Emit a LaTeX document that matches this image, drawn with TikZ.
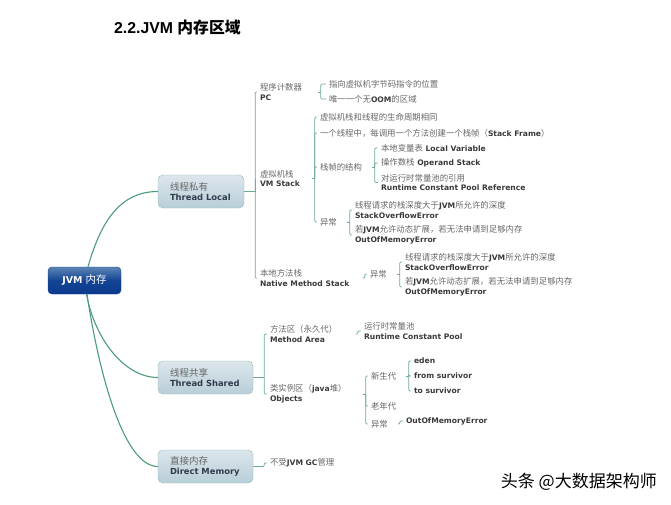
\documentclass[tikz,border=0pt]{standalone}
\usepackage{fontspec}
\setmainfont{DejaVu Sans}
\newfontfamily\cjk{Noto Sans CJK SC}
\newfontfamily\titlefont{Liberation Sans}
\usetikzlibrary{positioning}
\definecolor{zhgray}{HTML}{666666}
\definecolor{engray}{HTML}{3A3A3A}
\definecolor{branchgreen}{HTML}{6FA99A}
\definecolor{curvegreen}{HTML}{4C9C7C}
\definecolor{boxtop}{HTML}{DCE6EC}
\definecolor{boxbot}{HTML}{B9CED8}
\definecolor{boxtext}{HTML}{2E3C4C}
\definecolor{roottop}{HTML}{5C84B4}
\definecolor{rootmid}{HTML}{134492}
\definecolor{rootbot}{HTML}{0B3A90}
\newcommand{\zh}[1]{{\fontsize{8.4}{9.5}\selectfont\cjk\mdseries\color{zhgray}#1}}
\newcommand{\zb}[1]{{\fontsize{9.5}{10.5}\selectfont\cjk\mdseries\color{zhgray}#1}}
\tikzstyle{item} = [inner xsep=3pt, inner ysep=0pt, align=left, text=engray, font=\fontsize{7.6}{9.6}\selectfont\bfseries]
\tikzstyle{box} = [rectangle, draw=branchgreen!80, rounded corners=5pt, top color=boxtop, bottom color=boxbot, minimum height=33pt, inner xsep=12pt, inner ysep=0pt, align=left, text=boxtext, font=\fontsize{8.4}{10.4}\selectfont\bfseries]
\tikzstyle{branch} = [draw=branchgreen, line width=0.7pt, rounded corners=1pt]
\tikzstyle{curve} = [draw=curvegreen, line width=1.1pt]

\begin{document}
\begin{tikzpicture}[x=1pt, y=-1pt]
  \useasboundingbox (0,0) rectangle (671,505);
  \node[anchor=west, inner sep=0pt, font=\titlefont\fontsize{15.8}{16}\selectfont\bfseries] (title) at (114,28) {2.2.JVM {\cjk 内存区域}};
  \node[rectangle, draw=rootbot, rounded corners=4pt, top color=roottop, bottom color=rootbot, middle color=rootmid, minimum width=73pt, minimum height=27pt, inner sep=0pt, text=white, font=\fontsize{9.4}{10}\selectfont\bfseries] (Root) at (84.5,280.5) {JVM {\cjk\mdseries\fontsize{10.5}{10}\selectfont 内存}};

  \node[box, text width=62pt, right=110pt of Root.west, yshift=89pt] (TL) {\zb{线程私有}\\Thread Local};
  \node[box, text width=71pt, right=110pt of Root.west, yshift=-97pt] (TS) {\zb{线程共享}\\Thread Shared};
  \node[box, text width=71pt, right=110pt of Root.west, yshift=-186pt] (DM) {\zb{直接内存}\\Direct Memory};

  \node[item, right=99pt of TL.west, yshift=99.5pt] (PC) {\zh{程序计数器}\\PC};
  \node[item, right=99pt of TL.west, yshift=13pt] (VM) {\zh{虚拟机栈}\\VM Stack};
  \node[item, right=99pt of TL.west, yshift=-86.5pt] (NM) {\zh{本地方法栈}\\Native Method Stack};

  \node[item, right=69pt of PC.west, yshift=8pt] (Pa) {\zh{指向虚拟机字节码指令的位置}};
  \node[item, right=69pt of PC.west, yshift=-7pt] (Pb) {\zh{唯一一个无}OOM\zh{的区域}};

  \node[item, right=60pt of VM.west, yshift=61.5pt] (Va) {\zh{虚拟机栈和线程的生命周期相同}};
  \node[item, right=60pt of VM.west, yshift=45.5pt] (Vb) {\zh{一个线程中，每调用一个方法创建一个栈帧（}Stack Frame\zh{）}};
  \node[item, right=60pt of VM.west, yshift=11.5pt] (Vc) {\zh{栈帧的结构}};
  \node[item, right=60pt of VM.west, yshift=-43.5pt] (Vd) {\zh{异常}};

  \node[item, right=61pt of Vc.west, yshift=19pt] (Fa) {\zh{本地变量表} Local Variable};
  \node[item, right=61pt of Vc.west, yshift=4pt] (Fb) {\zh{操作数栈} Operand Stack};
  \node[item, right=61pt of Vc.west, yshift=-15.5pt] (Fc) {\zh{对运行时常量池的引用}\\Runtime Constant Pool Reference};

  \node[item, right=35pt of Vd.west, yshift=12pt] (Ea) {\zh{线程请求的栈深度大于}JVM\zh{所允许的深度}\\StackOverflowError};
  \node[item, right=35pt of Vd.west, yshift=-13pt] (Eb) {\zh{若}JVM\zh{允许动态扩展，若无法申请到足够内存}\\OutOfMemoryError};

  \node[item, right=110pt of NM.west, yshift=4pt] (Ne) {\zh{异常}};
  \node[item, right=35pt of Ne.west, yshift=12pt] (Na) {\zh{线程请求的栈深度大于}JVM\zh{所允许的深度}\\StackOverflowError};
  \node[item, right=35pt of Ne.west, yshift=-13pt] (Nb) {\zh{若}JVM\zh{允许动态扩展，若无法申请到足够内存}\\OutOfMemoryError};

  \node[item, right=109pt of TS.west, yshift=43.5pt] (MA) {\zh{方法区（永久代）}\\Method Area};
  \node[item, right=109pt of TS.west, yshift=-16.5pt] (OB) {\zh{类实例区（}java\zh{堆）}\\Objects};
  \node[item, right=94pt of MA.west, yshift=3pt] (RP) {\zh{运行时常量池}\\Runtime Constant Pool};

  \node[item, right=101pt of OB.west, yshift=18pt] (Ya) {\zh{新生代}};
  \node[item, right=101pt of OB.west, yshift=-12pt] (Yb) {\zh{老年代}};
  \node[item, right=101pt of OB.west, yshift=-30pt] (Yc) {\zh{异常}};
  \node[item, right=43pt of Ya.west, yshift=15pt] (Ed) {eden};
  \node[item, right=43pt of Ya.west] (Fs) {from survivor};
  \node[item, right=43pt of Ya.west, yshift=-15pt] (Ts) {to survivor};
  \node[item, right=35pt of Yc.west, yshift=3pt] (Oo) {OutOfMemoryError};

  \node[item, right=109pt of DM.west, yshift=3.5pt] (Dc) {\zh{不受}JVM GC\zh{管理}};

  \node[anchor=east, inner sep=0pt, font=\cjk\fontsize{17}{17}\selectfont] (mark) at (657,482) {头条 @大数据架构师};

  \coordinate[right=61pt of PC.west] (jPC);
  \coordinate[right=55pt of VM.west] (jVM);
  \coordinate[right=55pt of Vc.west] (jVc);
  \coordinate[right=30pt of Vd.west] (jVd);
  \coordinate[right=106pt of NM.west] (jNM);
  \coordinate[right=30pt of Ne.west] (jNe);
  \coordinate[right=89pt of MA.west] (jMA);
  \coordinate[right=96pt of OB.west] (jOB);
  \coordinate[right=38pt of Ya.west] (jYa);
  \coordinate[right=30pt of Yc.west] (jYc);

  \draw[curve] ([xshift=3.5pt]Root.north) .. controls (100,225) and (118,191.5) .. (TL.west);
  \draw[curve] ([xshift=2pt]Root.south) .. controls (95,340) and (125,377.5) .. (TS.west);
  \draw[curve] ([xshift=2.5pt]Root.south) .. controls (100,380) and (125,466.5) .. (DM.west);

  \draw[branch] (TL.east) -- ++(11,0) coordinate (sTL);
  \draw[branch] (sTL) |- (PC.west);
  \draw[branch] (sTL) |- (NM.west);
  \draw[branch] (sTL) -- (VM.west -| sTL);
  \draw[branch] (jPC) -- ++(3,0) coordinate (sPC);
  \draw[branch] (sPC) |- (Pa.west);
  \draw[branch] (sPC) |- (Pb.west);
  \draw[branch] (jVM) -- ++(3,0) coordinate (sVM);
  \draw[branch] (sVM) |- (Va.west);
  \draw[branch] (sVM) |- (Vb.west);
  \draw[branch] (sVM) |- (Vc.west);
  \draw[branch] (sVM) |- (Vd.west);
  \draw[branch] (jVc) -- ++(3,0) coordinate (sVc);
  \draw[branch] (sVc) |- (Fa.west);
  \draw[branch] (sVc) |- (Fb.west);
  \draw[branch] (sVc) |- (Fc.west);
  \draw[branch] (jVd) -- ++(3,0) coordinate (sVd);
  \draw[branch] (sVd) |- (Ea.west);
  \draw[branch] (sVd) |- (Eb.west);
  \draw[branch] (jNM) -- ++(2,0) |- (Ne.west);
  \draw[branch] (jNe) -- ++(3,0) coordinate (sNe);
  \draw[branch] (sNe) |- (Na.west);
  \draw[branch] (sNe) |- (Nb.west);
  \draw[branch] (TS.east) -- ++(11,0) coordinate (sTS);
  \draw[branch] (sTS) |- (MA.west);
  \draw[branch] (sTS) |- (OB.west);
  \draw[branch] (jMA) -- ++(2,0) |- (RP.west);
  \draw[branch] (jOB) -- ++(3,0) coordinate (sOB);
  \draw[branch] (sOB) |- (Ya.west);
  \draw[branch] (sOB) |- (Yb.west);
  \draw[branch] (sOB) |- (Yc.west);
  \draw[branch] (jYa) -- ++(3,0) coordinate (sYa);
  \draw[branch] (sYa) |- (Ed.west);
  \draw[branch] (sYa) |- (Fs.west);
  \draw[branch] (sYa) |- (Ts.west);
  \draw[branch] (jYc) -- ++(2,0) |- (Oo.west);
  \draw[branch] (DM.east) -- ++(11,0) |- (Dc.west);
\end{tikzpicture}
\end{document}
